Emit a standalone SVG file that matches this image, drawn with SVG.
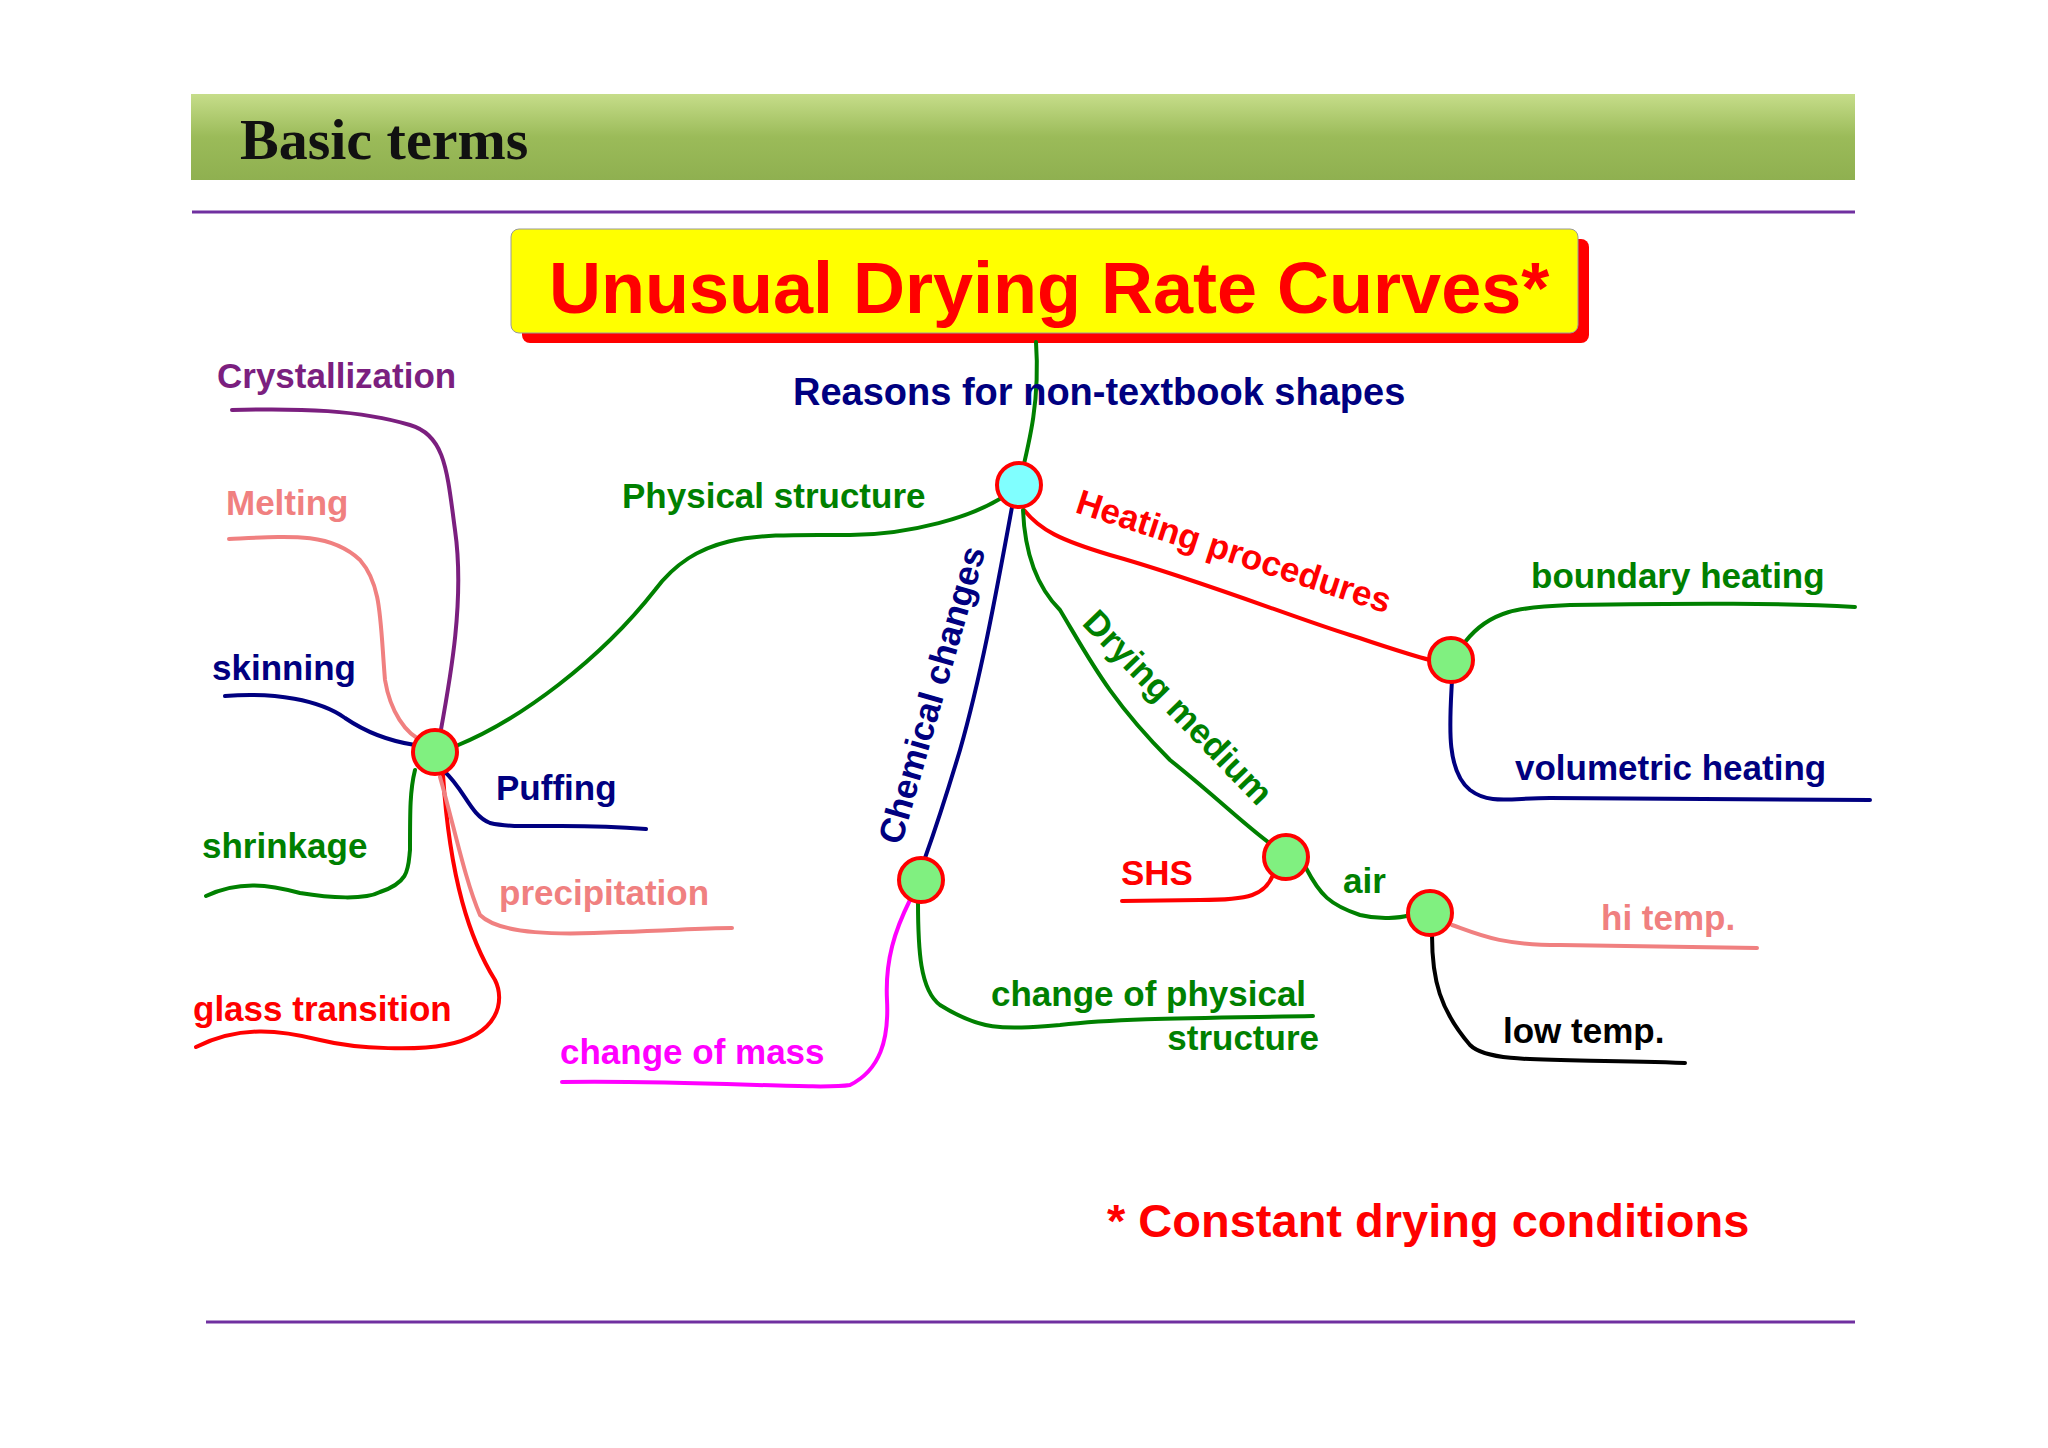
<svg xmlns="http://www.w3.org/2000/svg" width="2048" height="1448" viewBox="0 0 2048 1448">
<defs>
<linearGradient id="hdr" x1="0" y1="0" x2="0" y2="1"><stop offset="0" stop-color="#c6dd8a"/><stop offset="0.5" stop-color="#9bbb59"/><stop offset="1" stop-color="#8fb050"/></linearGradient>
<style>
text{font-family:"Liberation Sans",Arial,sans-serif;font-weight:bold;font-size:35px}
.c{fill:none;stroke-width:4;stroke-linecap:round}
.n{stroke:#ff0000;stroke-width:4;fill:#80f080}
</style>
</defs>
<rect width="2048" height="1448" fill="#fff"/>
<rect x="191" y="94" width="1664" height="86" fill="url(#hdr)"/>
<text x="240" y="159" style="font-family:'Liberation Serif',serif;font-size:58px" fill="#111">Basic terms</text>
<line x1="192" y1="212" x2="1855" y2="212" stroke="#7030a0" stroke-width="3"/>
<line x1="206" y1="1322" x2="1855" y2="1322" stroke="#7030a0" stroke-width="3"/>
<g id="title">
<rect x="522" y="239" width="1067" height="104" rx="8" fill="#ff0000"/>
<rect x="511" y="229" width="1067" height="104" rx="8" fill="#ffff00" stroke="#999" stroke-width="1"/>
<text x="549" y="313" style="font-size:72px" fill="#ff0000">Unusual Drying Rate Curves*</text>
</g>
<g id="connectors">
<path class="c" stroke="#008000" d="M1036,342 C1040,400 1030,440 1019,485"/>
<path class="c" stroke="#008000" d="M1019,485 C980,520 900,535 850,535 C760,535 700,530 655,590 C600,660 520,720 456,746"/>
<path class="c" stroke="#7b1f7f" d="M232,410 C300,408 360,410 410,425 C445,435 447,470 455,530 C465,600 450,680 440,735"/>
<path class="c" stroke="#f08080" d="M229,539 C290,536 330,532 360,560 C382,585 380,620 385,680 C390,710 405,735 425,742"/>
<path class="c" stroke="#000080" d="M225,696 C275,692 320,700 345,718 C370,735 395,742 415,745"/>
<path class="c" stroke="#008000" d="M206,896 C240,880 270,885 300,893 C330,898 365,900 380,892 C410,882 408,868 410,850 C410,810 410,790 415,770"/>
<path class="c" stroke="#ff0000" d="M196,1047 C240,1025 280,1030 320,1040 C360,1050 420,1050 445,1045 C500,1035 505,1000 495,980 C470,940 450,880 443,775"/>
<path class="c" stroke="#000080" d="M444,771 C465,790 470,815 490,823 C520,830 560,822 646,829"/>
<path class="c" stroke="#f08080" d="M440,777 C455,830 465,880 480,915 C500,935 560,935 620,932 C680,930 700,928 732,928"/>
<path class="c" stroke="#000080" d="M1012,507 C995,600 980,680 960,750 C945,800 935,830 925,858"/>
<path class="c" stroke="#ff00ff" d="M910,900 C895,930 885,960 887,1000 C889,1040 880,1070 850,1085 C820,1090 700,1080 562,1082"/>
<path class="c" stroke="#008000" d="M918,901 C918,950 920,990 940,1005 C980,1030 1000,1030 1060,1025 C1120,1018 1200,1018 1313,1016"/>
<path class="c" stroke="#ff0000" d="M1024,510 C1040,530 1060,540 1110,555 C1200,580 1300,620 1350,635 C1390,648 1410,655 1430,660"/>
<path class="c" stroke="#008000" d="M1465,642 C1490,610 1520,607 1570,605 C1700,603 1780,603 1855,607"/>
<path class="c" stroke="#000080" d="M1452,680 C1450,720 1445,770 1470,790 C1490,805 1510,798 1550,798 L1870,800"/>
<path class="c" stroke="#008000" d="M1023,510 C1025,560 1040,590 1060,610 C1090,660 1110,700 1170,760 C1220,800 1250,830 1275,847"/>
<path class="c" stroke="#ff0000" d="M1273,875 C1265,895 1250,900 1200,900 L1122,901"/>
<path class="c" stroke="#008000" d="M1306,868 C1320,895 1330,905 1360,915 C1380,920 1400,918 1410,915"/>
<path class="c" stroke="#f08080" d="M1452,925 C1480,935 1500,945 1560,945 L1757,948"/>
<path class="c" stroke="#000000" d="M1432,935 C1432,980 1440,1010 1470,1045 C1490,1065 1560,1058 1685,1063"/>
</g>
<g id="center"><circle cx="1019" cy="485" r="22" class="n" fill="#80ffff" style="fill:#80ffff"/><text x="793" y="405" style="font-size:38px" fill="#000080">Reasons for  non-textbook shapes</text></g>
<g id="physical"><circle cx="435" cy="752" r="22" class="n"/><text x="622" y="508" fill="#008000">Physical structure</text></g>
<g id="chemical"><circle cx="921" cy="880" r="22" class="n"/><text transform="translate(901,846) rotate(-74)" fill="#000080">Chemical changes</text></g>
<g id="heating"><circle cx="1451" cy="660" r="22" class="n"/><text transform="translate(1074,512) rotate(18)" fill="#ff0000">Heating procedures</text></g>
<g id="medium"><circle cx="1286" cy="857" r="22" class="n"/><text transform="translate(1081,624) rotate(46)" fill="#008000">Drying medium</text></g>
<g id="air"><circle cx="1430" cy="913" r="22" class="n"/><text x="1343" y="893" fill="#008000">air</text></g>
<g id="leaves">
<text x="217" y="388" fill="#7b1f7f">Crystallization</text>
<text x="226" y="515" fill="#f08080">Melting</text>
<text x="212" y="680" fill="#000080">skinning</text>
<text x="202" y="858" fill="#008000">shrinkage</text>
<text x="193" y="1021" fill="#ff0000">glass transition</text>
<text x="496" y="800" fill="#000080">Puffing</text>
<text x="499" y="905" fill="#f08080">precipitation</text>
<text x="560" y="1064" fill="#ff00ff">change of mass</text>
<text x="991" y="1006" fill="#008000">change of physical</text>
<text x="1319" y="1050" text-anchor="end" fill="#008000">structure</text>
<text x="1531" y="588" fill="#008000">boundary heating</text>
<text x="1515" y="780" fill="#000080">volumetric heating</text>
<text x="1121" y="885" fill="#ff0000">SHS</text>
<text x="1601" y="930" fill="#f08080">hi temp.</text>
<text x="1503" y="1043" fill="#000000">low temp.</text>
</g>
<text x="1107" y="1237" style="font-size:47px" fill="#ff0000">* Constant drying conditions</text>
</svg>
